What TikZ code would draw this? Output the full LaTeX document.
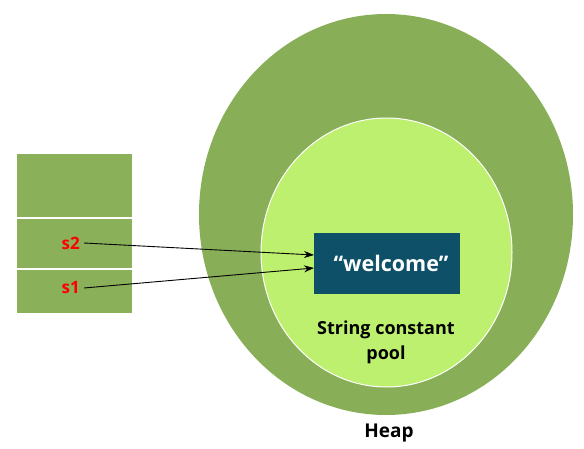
\documentclass[tikz,border=0pt]{standalone}
\usepackage{fontspec}
\setmainfont{Open Sans}
\usetikzlibrary{arrows.meta,shapes.geometric}
\definecolor{heapgreen}{HTML}{88AF58}
\definecolor{poolgreen}{HTML}{BDF06E}
\definecolor{boxteal}{HTML}{0E5068}
\definecolor{stackgreen}{HTML}{8AB05A}
\begin{document}
\begin{tikzpicture}[x=1pt,y=-1pt,
  cell/.style={fill=stackgreen,draw=white,line width=1.2pt,minimum width=116pt,inner sep=0pt,anchor=north west},
  lbl/.style={text=red,font=\fontsize{17}{18}\selectfont\bfseries,inner sep=0pt},
  ref/.style={-{Stealth[length=10pt,width=7pt]},line width=0.9pt,black}]
\useasboundingbox (0,0) rectangle (584,449);
\fill[white] (0,0) rectangle (584,449);
% heap
\node[ellipse,fill=heapgreen,minimum width=374pt,minimum height=401pt,inner sep=0pt] (heap) at (386,214.5) {};
\node[ellipse,fill=poolgreen,draw=white,line width=1pt,minimum width=251pt,minimum height=269pt,inner sep=0pt] (pool) at (386.5,252.5) {};
\node[fill=boxteal,minimum width=146pt,minimum height=61pt,inner sep=0pt,
  text=white,font=\fontsize{21.5}{24}\selectfont\bfseries] (str) at (387,263.5) {\hspace*{8pt}“welcome”};
\node[font=\fontsize{18}{25}\selectfont\bfseries,align=center] (pooltxt) at (386,342) {String constant\\pool};
\node[font=\fontsize{19}{22}\selectfont\bfseries] (heaptxt) at (389,433) {Heap};
% stack
\node[cell,minimum height=64pt] (c0) at (16,153) {};
\node[cell,minimum height=50pt] (c1) at (16,218) {};
\node[cell,minimum height=44pt] (c2) at (16,269) {};
\node[lbl,anchor=east] (s2) at (80,243) {s2};
\node[lbl,anchor=east] (s1) at (80,288) {s1};
\coordinate (t2) at (314,255);
\coordinate (t1) at (314,268);
\draw[ref] ([xshift=4pt]s2.east) -- (t2);
\draw[ref] ([xshift=4pt]s1.east) -- (t1);
\end{tikzpicture}
\end{document}
